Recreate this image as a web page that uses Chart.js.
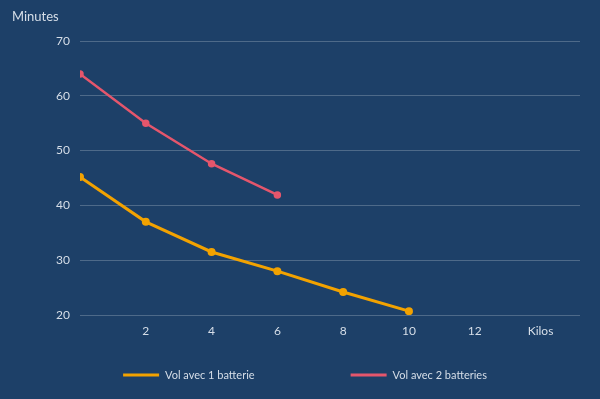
<!DOCTYPE html>
<html>
<head>
<meta charset="utf-8">
<script src="https://cdn.jsdelivr.net/npm/chart.js@4/dist/chart.umd.min.js"></script>
<style>
  html, body { margin: 0; padding: 0; background: #1d4068; }
  #wrap { width: 600px; height: 399px; }
</style>
</head>
<body>
<div id="wrap"><canvas id="chart" width="600" height="399"></canvas></div>
<script>
// poids transporté (kilos)
const kilos = [0, 2, 4, 6, 8, 10];
// durée de vol (minutes)
const vol1Batterie = [45.2, 37.0, 31.5, 28.0, 24.2, 20.7];
const vol2Batteries = [64.0, 55.0, 47.6, 41.9];
const seriesNames = ['Vol avec 1 batterie', 'Vol avec 2 batteries'];
const yTicks = [20, 30, 40, 50, 60, 70];

const textColor = '#d6dee8';
const fontFamily = 'Lato, "DejaVu Sans", sans-serif';

// fond bleu + titre de l'axe Y + légende dessinée à la main
const decoPlugin = {
    id: 'deco',
    beforeDraw(chart) {
        const c = chart.ctx;
        c.save();
        c.fillStyle = '#1d4068';
        c.fillRect(0, 0, chart.width, chart.height);
        c.restore();
    },
    afterDraw(chart) {
        const c = chart.ctx;
        c.save();
        c.font = '13px ' + fontFamily;
        c.fillStyle = textColor;
        c.textBaseline = 'middle';
        c.fillText('Minutes', 12, 17);

        // légende
        c.font = '11px ' + fontFamily;
        const lineW = 36, gapText = 6, gapItems = 96;
        const items = chart.data.datasets.map(ds => ({
            label: ds.label, color: ds.borderColor,
            w: lineW + gapText + c.measureText(ds.label).width
        }));
        const total = items.reduce((s, it) => s + it.w, 0) + gapItems * (items.length - 1);
        let x = chart.width / 2 - total / 2 + 5;
        const y = 375;
        items.forEach(it => {
            c.strokeStyle = it.color;
            c.lineWidth = 3;
            c.beginPath();
            c.moveTo(x, y);
            c.lineTo(x + lineW, y);
            c.stroke();
            c.fillStyle = textColor;
            c.fillText(it.label, x + lineW + gapText, y);
            x += it.w + gapItems;
        });
        c.restore();
    }
};

const ctx = document.getElementById('chart').getContext('2d');
const chart = new Chart(ctx, {
    type: 'line',
    data: {
        datasets: [{
            label: seriesNames[0],
            data: kilos.map((k, i) => ({ x: k, y: vol1Batterie[i] })),
            borderColor: '#f2a200',
            backgroundColor: '#f2a200',
            borderWidth: 3,
            pointRadius: 2.5,
            pointHoverRadius: 2.5,
            tension: 0
        }, {
            label: seriesNames[1],
            data: vol2Batteries.map((v, i) => ({ x: kilos[i], y: v })),
            borderColor: '#e5566c',
            backgroundColor: '#e5566c',
            borderWidth: 2.5,
            pointRadius: 2.5,
            pointHoverRadius: 2.5,
            tension: 0
        }]
    },
    plugins: [decoPlugin],
    options: {
        responsive: false,
        animation: false,
        layout: { padding: { left: 0, right: 20, top: 41, bottom: 0 } },
        plugins: {
            legend: { display: false },
            tooltip: { enabled: false }
        },
        scales: {
            x: {
                type: 'linear',
                min: 0,
                max: 15.2,
                grid: { display: false },
                border: { display: false },
                afterFit(s) { s.height = 84; },
                ticks: {
                    stepSize: 2,
                    includeBounds: false,
                    padding: 1,
                    color: textColor,
                    font: { family: fontFamily, size: 12 },
                    maxRotation: 0,
                    callback: v => v === 0 ? '' : (v === 14 ? 'Kilos' : String(v))
                }
            },
            y: {
                min: yTicks[0],
                max: yTicks[yTicks.length - 1],
                afterFit(s) { s.width = 80; },
                afterBuildTicks(s) { s.ticks = yTicks.map(v => ({ value: v })); },
                grid: { color: 'rgba(255,255,255,0.22)', drawTicks: false, lineWidth: 1 },
                border: { display: false },
                ticks: {
                    padding: 10,
                    color: textColor,
                    font: { family: fontFamily, size: 12 }
                }
            }
        }
    }
});
</script>
</body>
</html>
